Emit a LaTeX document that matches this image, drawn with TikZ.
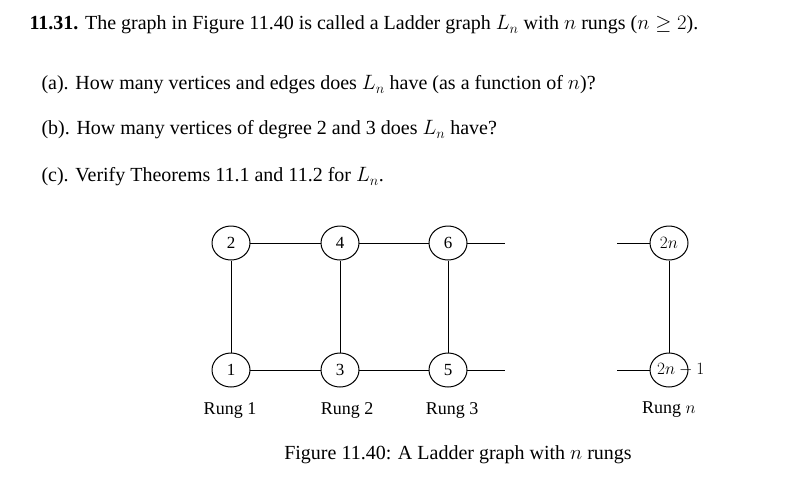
\documentclass[tikz,border=0pt]{standalone}
\usepackage{fontspec}
\setmainfont{Liberation Serif}
\usetikzlibrary{shapes.geometric}
\begin{document}
\begin{tikzpicture}[x=1pt,y=-1pt,
  v/.style={draw,line width=1pt,ellipse,minimum width=38pt,minimum height=34pt,inner sep=0pt,fill=white,font=\fontsize{17}{17}\selectfont},
  e/.style={line width=1pt},
  t/.style={anchor=west,font=\fontsize{20}{24}\selectfont},
  r/.style={font=\fontsize{18}{21}\selectfont}]
\useasboundingbox (0,0) rectangle (789,482);
\node[t] (q) at (26,25) {\textbf{11.31.} The graph in Figure 11.40 is called a Ladder graph $L_n$ with $n$ rungs ($n\geq 2$).};
\node[t] (qa) at (38,85) {(a). How many vertices and edges does $L_n$ have (as a function of $n$)?};
\node[t] (qb) at (38,130) {(b). How many vertices of degree 2 and 3 does $L_n$ have?};
\node[t] (qc) at (38,177) {(c). Verify Theorems 11.1 and 11.2 for $L_n$.};
\coordinate (t1) at (505,243); \coordinate (t2) at (617,243);
\coordinate (b1) at (505,370); \coordinate (b2) at (617,370);
\draw[e] (231,243) -- (t1) (t2) -- (669,243);
\draw[e] (231,370) -- (b1) (b2) -- (669,370);
\node[v] (n2) at (231,243) {2};
\node[v] (n4) at (340,243) {4};
\node[v] (n6) at (448,243) {6};
\node[v] (m2) at (669,243) {$2n$};
\node[v] (n1) at (231,370) {1};
\node[v] (n3) at (340,370) {3};
\node[v] (n5) at (448,370) {5};
\node[v] (m1) at (669,370) {};
\node[font=\fontsize{17}{17}\selectfont,anchor=west,inner sep=0pt] (m1l) at (m1.center) [xshift=-12pt] {$2n-1$};
\draw[e] (n2)--(n1) (n4)--(n3) (n6)--(n5) (m2)--(m1);
\node[r] (r1) at (230,410) {Rung 1};
\node[r] (r2) at (347,410) {Rung 2};
\node[r] (r3) at (452,410) {Rung 3};
\node[r] (rn) at (669,410) {Rung $n$};
\node[font=\fontsize{20}{24}\selectfont] (cap) at (458,455) {Figure 11.40: A Ladder graph with $n$ rungs};
\end{tikzpicture}
\end{document}
